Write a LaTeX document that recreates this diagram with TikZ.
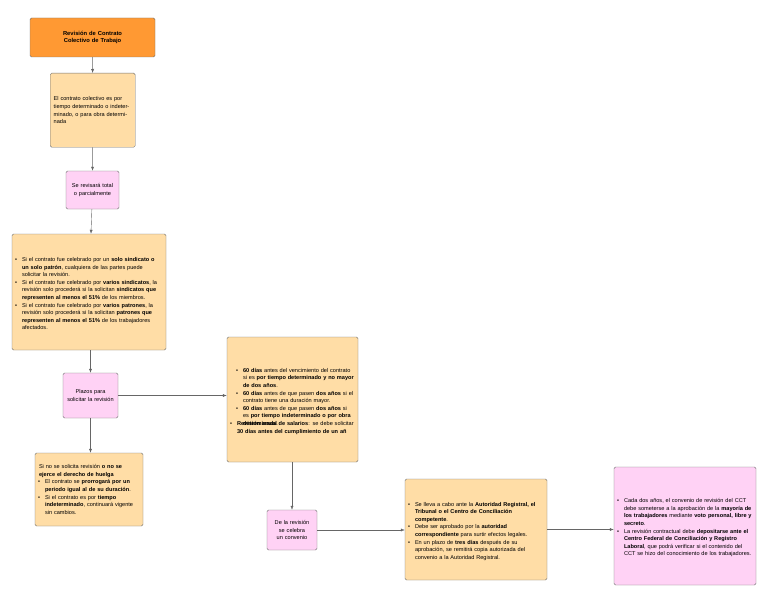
\documentclass[tikz,border=0pt]{standalone}
\usepackage{fontspec}
\setmainfont{Liberation Sans}
\usepackage{enumitem}
\setlist[itemize]{nosep,leftmargin=6pt,label=\textbullet}
\begin{document}
\begin{tikzpicture}[x=1pt,y=-1pt,
 bx/.style={draw=black!55,rounded corners=1.5pt,fill=tanc,inner sep=3pt,font=\fontsize{5.6}{7.6}\selectfont,align=left},
 pk/.style={bx,fill=pinkc,align=center},
 ar/.style={draw=black!60,-{Latex[length=4pt,width=3pt]}},
]
\usetikzlibrary{arrows.meta}
\definecolor{tanc}{HTML}{FFDDA6}
\definecolor{pinkc}{HTML}{FFD2F5}
\definecolor{orc}{HTML}{FF9933}
\path[use as bounding box,fill=white] (0,0) rectangle (768,615);
\node[bx,fill=orc,align=center,minimum width=125pt,minimum height=39pt,text width=115pt,font=\fontsize{5.8}{7.6}\selectfont\bfseries] (t) at (92.5,37.5) {Revisión de Contrato Colectivo de Trabajo};
\node[bx,minimum width=85pt,minimum height=74pt,text width=78pt,anchor=north west] (b2) at (50,73) {El contrato colectivo es por tiempo determinado o indeterminado, o para obra determinada};
\node[pk,minimum width=53pt,minimum height=38pt,text width=46pt] (b3) at (92.5,190) {Se revisará total o parcialmente};
\node[bx,minimum width=154pt,minimum height=116pt,text width=146pt] (b4) at (89,292) {\begin{itemize}
\item Si el contrato fue celebrado por un \textbf{solo sindicato o un solo patrón}, cualquiera de las partes puede solicitar la revisión.
\item Si el contrato fue celebrado por \textbf{varios sindicatos}, la revisión solo procederá si la solicitan \textbf{sindicatos que representen al menos el 51\%} de los miembros.
\item Si el contrato fue celebrado por \textbf{varios patrones}, la revisión solo procederá si la solicitan \textbf{patrones que representen al menos el 51\%} de los trabajadores afectados.
\end{itemize}};
\node[pk,minimum width=55pt,minimum height=45pt,text width=48pt] (b5) at (90.5,395.5) {Plazos para solicitar la revisión};
\node[bx,minimum width=108pt,minimum height=73pt,text width=100pt] (b6) at (89,489.5) {Si no se solicita revisión \textbf{o no se ejerce el derecho de huelga}
\begin{itemize}
\item El contrato se \textbf{prorrogará por un periodo igual al de su duración}.
\item Si el contrato es por \textbf{tiempo indeterminado}, continuará vigente sin cambios.
\end{itemize}};
\node[bx,minimum width=131pt,minimum height=125pt,text width=123pt] (b7) at (292.5,399.5) {\begin{itemize}
\item[] \begin{itemize}
\item \textbf{60 días} antes del vencimiento del contrato si es \textbf{por tiempo determinado y no mayor de dos años}.
\item \textbf{60 días} antes de que pasen \textbf{dos años} si el contrato tiene una duración mayor.
\item \textbf{60 días} antes de que pasen \textbf{dos años} si es \textbf{por tiempo indeterminado o por obra determinada}.
\end{itemize}
\end{itemize}\vspace{-7.6pt}
\begin{itemize}
\item \textbf{Revisión anual de salarios}: se debe solicitar \textbf{30 días antes del cumplimiento de un añ}
\end{itemize}};
\node[pk,minimum width=50pt,minimum height=40pt,text width=44pt] (b8) at (292,530) {De la revisión se celebra un convenio};
\node[bx,minimum width=142pt,minimum height=101pt,text width=134pt] (b9) at (476,529.5) {\begin{itemize}
\item Se lleva a cabo ante la \textbf{Autoridad Registral, el Tribunal o el Centro de Conciliación competente}.
\item Debe ser aprobado por la \textbf{autoridad correspondiente} para surtir efectos legales.
\item En un plazo de \textbf{tres días} después de su aprobación, se remitirá copia autorizada del convenio a la Autoridad Registral.
\end{itemize}};
\node[bx,fill=pinkc,minimum width=142pt,minimum height=118pt,text width=134pt] (b10) at (685,526) {\begin{itemize}
\item Cada dos años, el convenio de revisión del CCT debe someterse a la aprobación de la \textbf{mayoría de los trabajadores} mediante \textbf{voto personal, libre y secreto}.
\item La revisión contractual debe \textbf{depositarse ante el Centro Federal de Conciliación y Registro Laboral}, que podrá verificar si el contenido del CCT se hizo del conocimiento de los trabajadores.
\end{itemize}};
\draw[ar] (t) -- (b2);
\draw[ar] (b2) -- (b3);
\draw[ar] (b3) -- (b4);
\draw[ar] (b4.south -| b5) -- (b5);
\draw[ar] (b5) -- (b6.north -| b5);
\draw[ar] (b5.east) -- (b7.west |- b5.east);
\draw[ar] (b7.south -| b8) -- (b8);
\draw[ar] (b8) -- (b9.west |- b8);
\draw[ar] (b9.east) -- (b10.west |- b9.east);
\end{tikzpicture}
\end{document}
